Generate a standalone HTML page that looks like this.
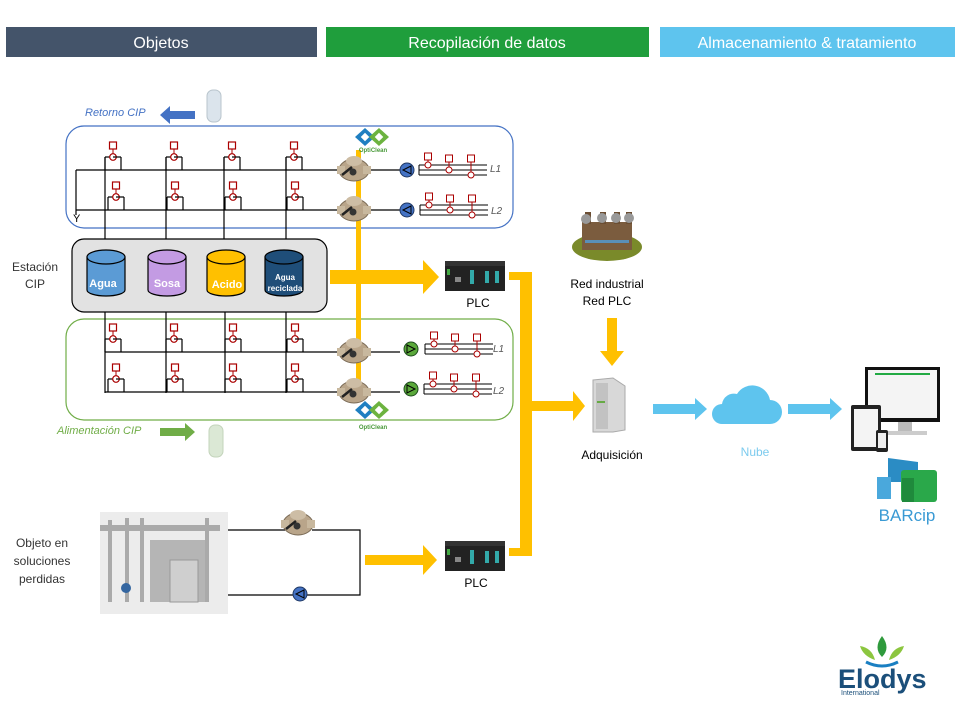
<!DOCTYPE html>
<html><head><meta charset="utf-8"><style>
body{margin:0;background:#fff}
svg{display:block}
text{font-family:"Liberation Sans",sans-serif}
</style></head><body>
<svg width="960" height="720" viewBox="0 0 960 720" xmlns="http://www.w3.org/2000/svg">
<defs>
<g id="sen"><line x1="0" y1="0" x2="0" y2="-13" stroke="#000" stroke-width="1.2"/><line x1="0" y1="-13" x2="8" y2="-13" stroke="#000" stroke-width="1.2"/><line x1="8" y1="-13" x2="8" y2="-22" stroke="#a00" stroke-width="1"/><rect x="4.5" y="-28" width="7" height="7" fill="#fff" stroke="#a00" stroke-width="1.2"/><circle cx="8" cy="-13" r="3.3" fill="#fff" stroke="#a00" stroke-width="1.2"/><line x1="16" y1="-13" x2="16" y2="0" stroke="#000" stroke-width="1.2"/><line x1="8" y1="-13" x2="16" y2="-13" stroke="#000" stroke-width="1.2"/></g>
<g id="valve"><ellipse cx="0" cy="0" rx="15" ry="11" fill="#b9a58a" stroke="#7a6a55"/><ellipse cx="0" cy="-9" rx="8" ry="5" fill="#cdbda5"/><rect x="9" y="-4" width="8" height="8" fill="#c8b89e"/><rect x="-17" y="-4" width="8" height="8" fill="#c8b89e"/><line x1="-12" y1="5" x2="-2" y2="-3" stroke="#222" stroke-width="2.5"/><circle cx="-1" cy="2" r="3.5" fill="#333"/></g>
<g id="lines"><line x1="0" y1="-5" x2="0" y2="5" stroke="#000"/><line x1="0" y1="-5" x2="68" y2="-5" stroke="#000"/><line x1="0" y1="0" x2="68" y2="0" stroke="#000"/><line x1="0" y1="5" x2="68" y2="5" stroke="#000"/><g stroke="#a00" fill="#fff"><line x1="9" y1="-10" x2="9" y2="-5"/><rect x="5.5" y="-17" width="7" height="7"/><circle cx="9" cy="-5" r="3"/><line x1="30" y1="-8" x2="30" y2="0"/><rect x="26.5" y="-15" width="7" height="7"/><circle cx="30" cy="0" r="3"/><line x1="52" y1="-8" x2="52" y2="5"/><rect x="48.5" y="-15" width="7" height="7"/><circle cx="52" cy="5" r="3"/></g></g>
<g id="plc"><rect x="0" y="2" width="60" height="28" fill="#222"/><rect x="0" y="0" width="60" height="5" fill="#333"/><rect x="2" y="8" width="3" height="6" fill="#4a4"/><rect x="10" y="16" width="6" height="5" fill="#888"/><rect x="25" y="9" width="4" height="14" fill="#3aa"/><rect x="40" y="10" width="4" height="12" fill="#3aa"/><rect x="50" y="10" width="4" height="12" fill="#3aa"/></g>
<g id="opti"><path d="M0 0 l10 -9 l10 9 l-10 9z" fill="#1f7fc1"/><path d="M14 0 l10 -9 l10 9 l-10 9z" fill="#6cb33f"/><rect x="7" y="-3" width="6" height="6" fill="#fff" transform="rotate(45 10 0)"/><rect x="21" y="-3" width="6" height="6" fill="#fff" transform="rotate(45 24 0)"/></g>
<g id="tankS"><rect x="0" y="0" width="14" height="32" rx="6" fill="#dbe4ec" stroke="#b8c4cc"/></g>
</defs>

<!-- header -->
<rect x="6" y="27" width="311" height="30" fill="#44546a"/>
<rect x="326" y="27" width="323" height="30" fill="#1f9e3c"/>
<rect x="660" y="27" width="295" height="30" fill="#5ec4ee"/>
<text x="161" y="48" font-size="16" fill="#fff" text-anchor="middle">Objetos</text>
<text x="487" y="48" font-size="16" fill="#fff" text-anchor="middle">Recopilación de datos</text>
<text x="807" y="48" font-size="16" fill="#fff" text-anchor="middle">Almacenamiento &amp; tratamiento</text>

<!-- retorno -->
<text x="85" y="116" font-size="11" font-style="italic" fill="#4472c4">Retorno CIP</text>
<path d="M195 111 h-25 v-5 l-10 9 l10 9 v-5 h25z" fill="#4472c4"/>
<use href="#tankS" x="207" y="90"/>

<!-- boxes -->
<rect x="66" y="126" width="447" height="102" rx="18" fill="none" stroke="#4472c4" stroke-width="1.2"/>
<rect x="66" y="319" width="447" height="101" rx="18" fill="none" stroke="#70ad47" stroke-width="1.2"/>

<!-- columns -->
<g stroke="#000" stroke-width="1.2">
<line x1="105" y1="157" x2="105" y2="250"/><line x1="166" y1="157" x2="166" y2="250"/><line x1="224" y1="157" x2="224" y2="250"/><line x1="286" y1="157" x2="286" y2="250"/>
<line x1="105" y1="310" x2="105" y2="393"/><line x1="166" y1="310" x2="166" y2="393"/><line x1="225" y1="310" x2="225" y2="393"/><line x1="286" y1="310" x2="286" y2="393"/>
<line x1="76" y1="170" x2="340" y2="170"/><line x1="76" y1="210" x2="340" y2="210"/><line x1="76" y1="170" x2="76" y2="215"/>
<line x1="105" y1="352" x2="340" y2="352"/><line x1="105" y1="392" x2="340" y2="392"/>
<line x1="370" y1="170" x2="400" y2="170"/><line x1="370" y1="210" x2="400" y2="210"/><line x1="370" y1="352" x2="400" y2="352"/><line x1="370" y1="392" x2="400" y2="392"/>
</g>
<text x="73" y="222" font-size="11">Y</text>
<use href="#sen" x="105" y="170"/><use href="#sen" x="166" y="170"/><use href="#sen" x="224" y="170"/><use href="#sen" x="286" y="170"/>
<use href="#sen" x="108" y="210"/><use href="#sen" x="167" y="210"/><use href="#sen" x="225" y="210"/><use href="#sen" x="287" y="210"/>
<use href="#sen" x="105" y="352"/><use href="#sen" x="166" y="352"/><use href="#sen" x="225" y="352"/><use href="#sen" x="287" y="352"/>
<use href="#sen" x="108" y="392"/><use href="#sen" x="167" y="392"/><use href="#sen" x="225" y="392"/><use href="#sen" x="287" y="392"/>

<!-- gray tank box -->
<rect x="72" y="239" width="255" height="73" rx="12" fill="#e2e2e2" stroke="#000" stroke-width="1.2"/>
<g stroke="#000" stroke-width="1.2">
<path d="M87 257 v33 a19 6 0 0 0 38 0 v-33z" fill="#5b9bd5"/><ellipse cx="106" cy="257" rx="19" ry="7" fill="#5b9bd5"/>
<path d="M148 257 v33 a19 6 0 0 0 38 0 v-33z" fill="#c39be3"/><ellipse cx="167" cy="257" rx="19" ry="7" fill="#c39be3"/>
<path d="M207 257 v33 a19 6 0 0 0 38 0 v-33z" fill="#ffc000"/><ellipse cx="226" cy="257" rx="19" ry="7" fill="#ffc000"/>
<path d="M265 257 v33 a19 6 0 0 0 38 0 v-33z" fill="#1f4e79"/><ellipse cx="284" cy="257" rx="19" ry="7" fill="#1f4e79"/>
</g>
<g fill="#fff" font-weight="bold" text-anchor="middle">
<text x="103" y="287" font-size="11">Agua</text><text x="167" y="287" font-size="11">Sosa</text><text x="227" y="288" font-size="11">Acido</text>
<text x="285" y="280" font-size="8">Agua</text><text x="285" y="291" font-size="8">reciclada</text></g>

<text x="35" y="271" font-size="12" text-anchor="middle" fill="#333">Estación</text>
<text x="35" y="288" font-size="12" text-anchor="middle" fill="#333">CIP</text>

<!-- yellow -->
<rect x="356" y="150" width="5" height="252" fill="#ffc000"/>
<path d="M330 270 h93 v-10 l16 17 l-16 17 v-10 h-93z" fill="#ffc000"/>
<use href="#valve" x="354" y="170"/><use href="#valve" x="354" y="210"/><use href="#valve" x="354" y="352"/><use href="#valve" x="354" y="392"/>
<use href="#opti" x="355" y="137"/><text x="373" y="152" font-size="6" font-weight="bold" fill="#4a9a3a" text-anchor="middle">OptiClean</text>
<use href="#opti" x="355" y="410"/><text x="373" y="429" font-size="6" font-weight="bold" fill="#4a9a3a" text-anchor="middle">OptiClean</text>

<!-- pumps -->
<g stroke="#1f3864"><circle cx="407" cy="170" r="7" fill="#4472c4"/><circle cx="407" cy="210" r="7" fill="#4472c4"/></g>
<path d="M411 166 l-8 4 l8 4z M411 206 l-8 4 l8 4z" fill="none" stroke="#000"/>
<g stroke="#1e4d1e"><circle cx="411" cy="349" r="7" fill="#5aa83a"/><circle cx="411" cy="389" r="7" fill="#5aa83a"/></g>
<path d="M407 345 l8 4 l-8 4z M407 385 l8 4 l-8 4z" fill="none" stroke="#000"/>
<use href="#lines" x="419" y="170"/><use href="#lines" x="420" y="210"/><use href="#lines" x="425" y="349"/><use href="#lines" x="424" y="389"/>
<g font-size="10" font-style="italic" fill="#555"><text x="490" y="172">L1</text><text x="491" y="214">L2</text><text x="493" y="352">L1</text><text x="493" y="394">L2</text></g>

<text x="57" y="434" font-size="11" font-style="italic" fill="#70ad47">Alimentación  CIP</text>
<path d="M160 428 h25 v-5 l10 9 l-10 9 v-5 h-25z" fill="#70ad47"/>
<rect x="209" y="425" width="14" height="32" rx="6" fill="#dbe8d5" stroke="#c3d4bb"/>

<!-- PLCs -->
<use href="#plc" x="445" y="261"/><text x="478" y="307" font-size="12" text-anchor="middle">PLC</text>
<use href="#plc" x="445" y="541"/><text x="476" y="587" font-size="12" text-anchor="middle">PLC</text>
<path d="M509 272 h23 v129 h41 v-10 l12 15 l-12 15 v-10 h-41 v145 h-23 v-8 h11 v-268 h-11z" fill="#ffc000"/>

<!-- factory -->
<ellipse cx="607" cy="247" rx="35" ry="14" fill="#7a8a2a"/>
<rect x="582" y="222" width="50" height="28" fill="#7b5c3e"/>
<rect x="585" y="212" width="6" height="12" fill="#6b4e33"/><rect x="600" y="212" width="6" height="12" fill="#6b4e33"/><rect x="614" y="212" width="6" height="12" fill="#6b4e33"/><rect x="626" y="212" width="6" height="12" fill="#6b4e33"/>
<g fill="#999"><circle cx="586" cy="219" r="5"/><circle cx="602" cy="218" r="5"/><circle cx="616" cy="218" r="5"/><circle cx="629" cy="218" r="5"/></g>
<rect x="585" y="240" width="44" height="3" fill="#5a8fb8"/>
<text x="607" y="288" font-size="12" text-anchor="middle">Red industrial</text>
<text x="607" y="305" font-size="12" text-anchor="middle">Red PLC</text>
<path d="M607 318 h10 v33 h7 l-12 15 l-12 -15 h7z" fill="#ffc000"/>

<!-- server -->
<path d="M593 380 l20 -2 l12 8 v44 l-12 2 h-20z" fill="#d8d8d8" stroke="#aaa"/>
<rect x="596" y="383" width="12" height="46" fill="#c2c2c2"/>
<rect x="597" y="401" width="8" height="2" fill="#6a4"/>
<text x="612" y="459" font-size="12" text-anchor="middle">Adquisición</text>

<!-- cloud -->
<path d="M653 404 h42 v-6 l12 11 l-12 11 v-6 h-42z" fill="#5ec4ee"/>
<path d="M722 424 a10 10 0 0 1 0 -20 a12 12 0 0 1 15 -10 a18 18 0 0 1 33 6 a12 12 0 0 1 0 24z" fill="#5ec4ee"/>
<text x="755" y="456" font-size="12" text-anchor="middle" fill="#7ccbee">Nube</text>
<path d="M788 404 h42 v-6 l12 11 l-12 11 v-6 h-42z" fill="#5ec4ee"/>

<!-- devices -->
<rect x="865" y="367" width="75" height="55" fill="#111"/><rect x="868" y="370" width="69" height="48" fill="#f4f4f4"/>
<rect x="875" y="373" width="55" height="2" fill="#2a4"/><rect x="898" y="422" width="14" height="10" fill="#bbb"/><rect x="887" y="431" width="40" height="4" fill="#ccc"/>
<rect x="851" y="405" width="30" height="46" rx="2" fill="#222"/><rect x="854" y="409" width="24" height="38" fill="#f4f4f4"/>
<rect x="876" y="430" width="12" height="22" rx="2" fill="#222"/><rect x="878" y="433" width="8" height="15" fill="#eee"/>
<path d="M888 458 l30 4 v20 h-30z" fill="#2b8cc4"/><rect x="877" y="477" width="14" height="22" fill="#4aa8dc"/>
<rect x="901" y="470" width="36" height="32" rx="3" fill="#2aa84a"/><rect x="902" y="478" width="12" height="24" fill="#1f8a3c"/>
<text x="907" y="521" font-size="17" text-anchor="middle" fill="#3a9ad4">BARcip</text>

<!-- bottom -->
<text x="42" y="547" font-size="12" text-anchor="middle" fill="#333">Objeto en</text>
<text x="42" y="565" font-size="12" text-anchor="middle" fill="#333">soluciones</text>
<text x="42" y="583" font-size="12" text-anchor="middle" fill="#333">perdidas</text>
<rect x="100" y="512" width="128" height="102" fill="#ececec"/>
<g fill="#aaa"><rect x="108" y="520" width="4" height="82"/><rect x="125" y="518" width="4" height="84"/><rect x="140" y="518" width="4" height="84"/><rect x="205" y="518" width="4" height="84"/><rect x="100" y="525" width="120" height="6"/></g>
<rect x="150" y="540" width="55" height="62" fill="#b5b5b5"/>
<rect x="170" y="560" width="28" height="42" fill="#cfcfcf" stroke="#999"/>
<circle cx="126" cy="588" r="5" fill="#3466a0"/>
<g stroke="#000" stroke-width="1.2" fill="none"><path d="M228 530 h57 M312 530 h48 v65 h-55 M293 595 h-65"/></g>
<use href="#valve" x="298" y="524"/>
<circle cx="300" cy="594" r="7" fill="#4472c4" stroke="#1f3864"/><path d="M304 590 l-8 4 l8 4z" fill="none" stroke="#000"/>
<path d="M365 555 h58 v-10 l14 15 l-14 15 v-10 h-58z" fill="#ffc000"/>

<!-- Elodys -->
<path d="M882 657 q-9 -9 0 -21 q9 12 0 21z" fill="#2f9a3c"/>
<path d="M875 660 q-12 -4 -15 -14 q12 2 15 14z M889 660 q12 -4 15 -14 q-12 2 -15 14z" fill="#8cc63f"/>
<path d="M866 662 q16 8 32 0" stroke="#1a7fc2" stroke-width="3" fill="none"/>
<text x="838" y="688" font-size="27" font-weight="bold" fill="#1b4f7a">Elodys</text>
<text x="841" y="695" font-size="7" fill="#1b4f7a">International</text>
</svg>
</body></html>
